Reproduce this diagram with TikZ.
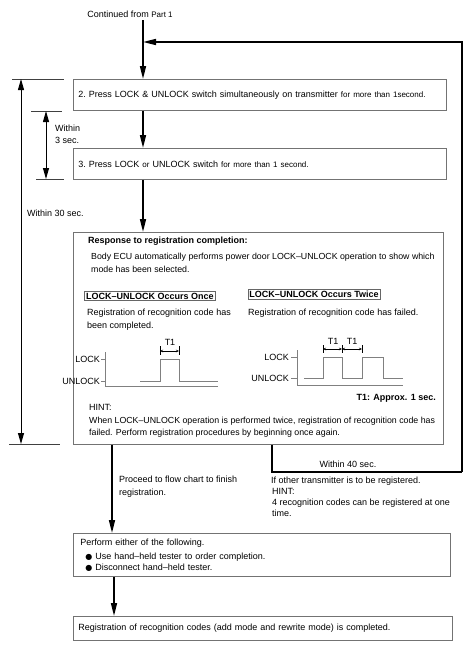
\documentclass[tikz,border=0pt]{standalone}
\usepackage{fontspec}
\setmainfont{Liberation Sans}
\newfontfamily\dotfont{DejaVu Sans}
\usetikzlibrary{arrows.meta}

\tikzset{
    flow/.style={line width=1.6pt, -{Triangle[length=13pt,width=6pt]}},
    loopline/.style={line width=1.6pt},
    dimline/.style={line width=1pt, {Triangle[length=11pt,width=6pt]}-{Triangle[length=11pt,width=6pt]}},
    extline/.style={color=black!75, line width=0.9pt},
    box/.style={draw=black!55, line width=0.8pt, inner xsep=5pt, inner ysep=0pt, align=left},
    label/.style={font=\fontsize{9}{11}\selectfont, inner sep=0pt, align=left},
    level/.style={color=black!50, line width=1pt},
    tiny/.style={line width=0.5pt, {Stealth[length=3pt,width=2.5pt]}-{Stealth[length=3pt,width=2.5pt]}},
}
\newcommand{\smaller}[1]{{\fontsize{8}{9}\selectfont #1}}
\newcommand{\bigdot}{{\dotfont\fontsize{8}{9}\selectfont ●}}

\begin{document}
\begin{tikzpicture}[x=1pt, y=-1pt]
    \useasboundingbox (0,0) rectangle (474,648);

    \coordinate (top) at (143,20);
    \coordinate (join) at (143,42);
    \coordinate (back) at (462,472);

    % Boîtes
    \node[box, anchor=north west, minimum width=373pt, minimum height=31pt, text width=363pt, font=\fontsize{9}{10}\selectfont] (press) at (73,79)
        {2.\ Press LOCK \& UNLOCK switch simultaneously on transmitter \smaller{for more than 1second.}};
    \node[box, anchor=north west, minimum width=373pt, minimum height=31pt, text width=363pt, font=\fontsize{9}{10}\selectfont] (confirm) at (73,148)
        {3.\ Press LOCK \smaller{or} UNLOCK switch \smaller{for more than 1 second.}};
    \node[box, anchor=north west, minimum width=370pt, minimum height=212pt] (response) at (73,232) {};
    \node[box, anchor=north west, minimum width=377pt, minimum height=43pt, text width=367pt, font=\fontsize{9}{11}\selectfont] (either) at (73,533)
        {\hspace*{2pt}Perform either of the following.\\[3pt]
         \hspace*{7pt}\bigdot\ Use hand--held tester to order completion.\\
         \hspace*{7pt}\bigdot\ Disconnect hand--held tester.};
    \node[box, anchor=north west, minimum width=379pt, minimum height=24pt, text width=369pt, font=\fontsize{9}{10}\selectfont] (done) at (73,616)
        {Registration of recognition codes (add mode and rewrite mode) is completed.};

    % Flèches
    \draw[flow] (top) -- (top |- press.north);
    \draw[flow] (press.south -| top) -- (confirm.north -| top);
    \draw[flow] (confirm.south -| top) -- (top |- response.north);
    \draw[flow] ([xshift=39pt]response.south west) -- ([xshift=39pt]either.north west);
    \draw[flow] ([xshift=41pt]either.south west) -- ([xshift=41pt]done.north west);
    \draw[loopline] ([xshift=199pt]response.south west) |- (back);
    \draw[flow] (back) |- (join);

    % Cotes de temps
    \draw[extline] (12,79) -- (64,79);
    \draw[extline] (9,444) -- (60,444);
    \draw[extline] (31,111) -- (62,111);
    \draw[extline] (36,179) -- (64,179);
    \draw[dimline] (21,79) -- (21,444);
    \draw[dimline] (46,111) -- (46,179);

    \node[label] (from) at (130,14) {Continued from \smaller{Part 1}};
    \node[label, anchor=west] (w30) at (27,213) {Within 30 sec.};
    \node[label, anchor=west] (w3) at (55,134) {Within\\[1pt]3 sec.};
    \node[label] (w40) at (348,464) {Within 40 sec.};
    \node[label, anchor=west] (proceed) at (119,487) {Proceed to flow chart to finish\\[2pt]registration.};
    \node[label, anchor=west] (other) at (271,481) {If other transmitter is to be registered.};
    \node[label, anchor=west] (hint2) at (272,502) {HINT:\\4 recognition codes can be registered at one\\time.};

    % Contenu de la réponse
    \node[label, anchor=west, font=\fontsize{9}{11}\bfseries] (title) at (88,241) {Response to registration completion:};
    \node[label, anchor=west, font=\fontsize{8.8}{13}\selectfont] (body) at (91,262.5)
        {Body ECU automatically performs power door LOCK--UNLOCK operation to show which\\mode has been selected.};
    \node[draw=black!60, line width=0.6pt, inner sep=1.5pt, font=\fontsize{9}{10}\bfseries] (once) at (150,296) {LOCK--UNLOCK Occurs Once};
    \node[draw=black!60, line width=0.6pt, inner sep=1.5pt, font=\fontsize{9}{10}\bfseries] (twice) at (314,294.5) {LOCK--UNLOCK Occurs Twice};
    \node[label, anchor=west, font=\fontsize{9}{13}\selectfont] (ok) at (87,319.5) {Registration of recognition code has\\been completed.};
    \node[label, anchor=west] (fail) at (248,313) {Registration of recognition code has failed.};

    % Chronogramme : une fois
    \draw[level] (105,352) -- (105,386) -- (218,386);
    \draw[level] (101,359) -- (105,359);
    \draw[level] (101,381) -- (105,381);
    \node[label, anchor=east] (lock1) at (100,359) {LOCK};
    \node[label, anchor=east] (unlock1) at (100,381) {UNLOCK};
    \draw[level] (140,381) -- (160,381) -- (160,359) -- (179,359) -- (179,381) -- (218,381);
    \draw[line width=0.5pt] (160,346) -- (160,355);
    \draw[line width=0.5pt] (179,346) -- (179,355);
    \draw[tiny] (160,351) -- (179,351);
    \node[label] (t1a) at (170,342) {T1};

    % Chronogramme : deux fois
    \draw[level] (297,350) -- (297,385) -- (403,385);
    \draw[level] (291,357) -- (297,357);
    \draw[level] (291,378) -- (297,378);
    \node[label, anchor=east] (lock2) at (289,357) {LOCK};
    \node[label, anchor=east] (unlock2) at (289,378) {UNLOCK};
    \draw[level] (304,378) -- (323,378) -- (323,357) -- (342,357) -- (342,378) -- (362,378) -- (362,357) -- (383,357) -- (383,378) -- (403,378);
    \foreach \x in {323,342,362}
        \draw[line width=0.5pt] (\x,345) -- (\x,353);
    \draw[tiny] (323,349) -- (342,349);
    \draw[tiny] (342,349) -- (362,349);
    \node[label] (t1b) at (333,341) {T1};
    \node[label] (t1c) at (352,341) {T1};

    \node[label, anchor=east, font=\fontsize{9}{10}\bfseries] (approx) at (436,398) {T1: Approx. 1 sec.};
    \node[label, anchor=west] (hint1) at (89,407) {HINT:};
    \node[label, anchor=west, font=\fontsize{8.8}{12}\selectfont] (when) at (89,427)
        {When LOCK--UNLOCK operation is performed twice, registration of recognition code has\\failed. Perform registration procedures by beginning once again.};
\end{tikzpicture}
\end{document}
